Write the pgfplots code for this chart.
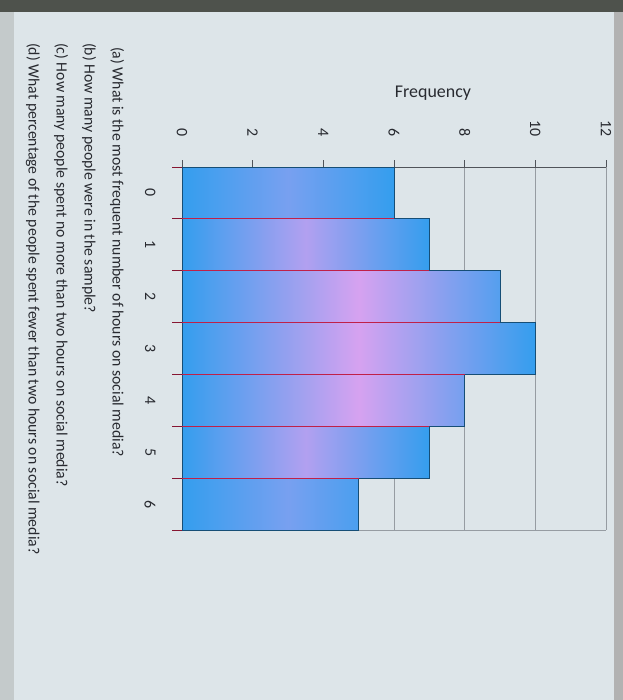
\documentclass[border=0pt]{standalone}
\usepackage{fontspec}
\setmainfont{Carlito}
\usepackage{pgfplots}
\pgfplotsset{compat=1.18}

\definecolor{paper}{RGB}{221,229,233}
\definecolor{topband}{RGB}{78,82,76}
\definecolor{leftstrip}{RGB}{196,202,203}
\definecolor{barblue}{RGB}{52,158,238}
\definecolor{pinkA}{RGB}{214,162,240}
\definecolor{pinkB}{RGB}{178,160,240}
\definecolor{pinkC}{RGB}{120,160,240}
\definecolor{bardark}{RGB}{22,78,118}
\definecolor{sepred}{RGB}{192,32,72}
\definecolor{gridgray}{RGB}{150,156,162}
\definecolor{axisgray}{RGB}{80,84,90}
\definecolor{ink}{RGB}{40,42,48}

\begin{document}
\begin{tikzpicture}
\useasboundingbox (0,0) rectangle (623bp,-700bp);
% photographed page
\fill[paper] (0,0) rectangle (623bp,-700bp);
\fill[topband] (0,0) rectangle (623bp,-12bp);
\fill[leftstrip] (0,-12bp) rectangle (14bp,-700bp);
\fill[gray!60] (614bp,-12bp) rectangle (623bp,-700bp);

\begin{axis}[
    at={(182bp,-167bp)}, anchor=north west,
    scale only axis, width=424bp, height=363bp,
    bar width=1, bar shift=0pt,
    xmin=0, xmax=12, ymin=-0.5, ymax=6.5, y dir=reverse,
    axis x line*=top, axis y line*=left,
    xtick={0,2,...,12}, ytick={0,...,6},
    minor ytick={-0.5,0.5,...,6.5},
    tick align=outside,
    major tick length=7bp, minor tick length=10bp,
    x axis line style={draw=axisgray, line width=0.8pt},
    y axis line style={draw=bardark, line width=0.8pt},
    xtick style={draw=axisgray, line width=0.8pt},
    ytick style={draw=none},
    minor y tick style={draw=sepred!70!black, line width=0.9pt},
    xmajorgrids, major x grid style={draw=gridgray, line width=0.6pt},
    extra y ticks={6.5}, extra y tick labels={},
    extra y tick style={grid=major, major grid style={draw=gridgray, line width=0.6pt}, tick style={draw=none}},
    xticklabel style={rotate=-90, anchor=east, font=\fontsize{16}{18}\selectfont, text=ink},
    yticklabel style={rotate=-90, anchor=north, font=\fontsize{16}{18}\selectfont, text=ink},
    xticklabel shift=20bp, yticklabel shift=16bp,
    /pgf/number format/assume math mode=true,
    clip=false,
]
% frequency of each number of hours (0..6): 6 7 9 10 8 7 5
\addplot[xbar, draw=bardark, line width=0.8pt, left color=barblue, right color=barblue, middle color=pinkA]
    coordinates {(9,2) (10,3) (8,4)};
\addplot[xbar, draw=bardark, line width=0.8pt, left color=barblue, right color=barblue, middle color=pinkB]
    coordinates {(7,1) (7,5)};
\addplot[xbar, draw=bardark, line width=0.8pt, left color=barblue, right color=barblue, middle color=pinkC]
    coordinates {(6,0) (5,6)};
% separators between neighbouring bars (length of the shorter one)
\addplot[xcomb, no marks, draw=sepred, line width=1pt]
    coordinates {(6,0.5) (7,1.5) (9,2.5) (8,3.5) (7,4.5) (5,5.5)};
\end{axis}

\node[font=\fontsize{18}{21}\selectfont, text=ink] at (433bp,-93bp) {Frequency};

\begin{scope}[every node/.style={rotate=-90, anchor=west, inner sep=0pt, text=ink, font=\fontsize{15.8}{18}\selectfont}]
\node at (117bp,-47bp) {(a) What is the most frequent number of hours on social media?};
\node at (89bp,-43bp) {(b) How many people were in the sample?};
\node at (61bp,-43bp) {(c) How many people spent no more than two hours on social media?};
\node at (33bp,-43bp) {(d) What percentage of the people spent fewer than two hours on social media?};
\end{scope}
\end{tikzpicture}
\end{document}
